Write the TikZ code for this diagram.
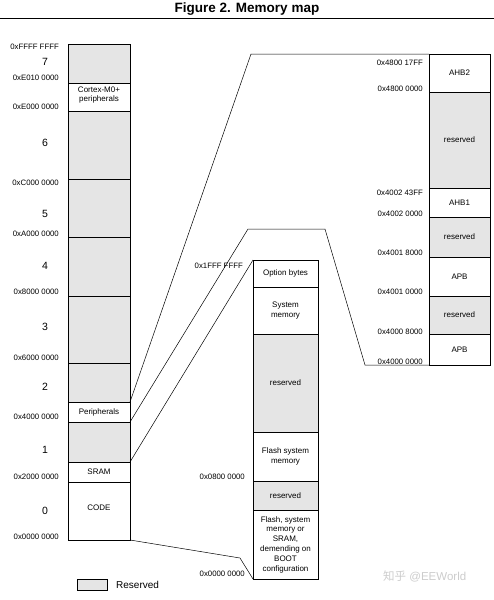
\documentclass[tikz,border=0pt]{standalone}
\usepackage{fontspec}
\setmainfont{Liberation Sans}
\newfontfamily\cjkfont{Noto Sans CJK SC}
\usepackage{xcolor}
\definecolor{resgray}{gray}{0.9}

\tikzset{
  blk/.style={draw, line width=0.7pt, anchor=north west, inner sep=0pt, outer sep=0pt,
    align=center, font=\fontsize{8}{9.8}\selectfont},
  lblk/.style={blk, minimum width=62pt},
  mblk/.style={blk, minimum width=65pt},
  rblk/.style={blk, minimum width=61pt},
  rsv/.style={fill=resgray},
  addr/.style={anchor=east, inner sep=0pt, font=\fontsize{7.8}{9}\selectfont},
  regnum/.style={inner sep=0pt, font=\fontsize{10.5}{12}\selectfont},
  link/.style={draw, line width=0.5pt}
}

\begin{document}
\begin{tikzpicture}[x=1pt, y=-1pt]
      \useasboundingbox (0,0) rectangle (494,600);

      % Title
      \node[font=\bfseries\fontsize{13.5}{15}\selectfont] (title) at (247,9) {Figure 2. Memory map};
      \draw[line width=0.9pt] (0,18) -- (494,18);

      % Full 4 GB map
      \node[lblk, rsv, minimum height=39pt] (r7) at (68,44) {};
      \node[lblk, minimum height=28pt] (cortex) at (68,83) {Cortex-M0+\\[-1pt]peripherals\\[-5pt]};
      \node[lblk, rsv, minimum height=68pt] (r6) at (68,111) {};
      \node[lblk, rsv, minimum height=58pt] (r5) at (68,179) {};
      \node[lblk, rsv, minimum height=59pt] (r4) at (68,237) {};
      \node[lblk, rsv, minimum height=67pt] (r3) at (68,296) {};
      \node[lblk, rsv, minimum height=39pt] (r2) at (68,363) {};
      \node[lblk, minimum height=20pt] (periph) at (68,402) {Peripherals};
      \node[lblk, rsv, minimum height=40pt] (r1) at (68,422) {};
      \node[lblk, minimum height=20pt] (sram) at (68,462) {SRAM};
      \node[lblk, minimum height=58pt] (code) at (68,482) {CODE\\[-4pt]};

      % Region numbers
      \foreach \n/\y in {7/62, 6/143, 5/214, 4/266, 3/327, 2/387, 1/450, 0/511} {
          \node[regnum] (num\n) at (45,\y) {\n};
        }

      % Left addresses
      \foreach \a/\y [count=\i] in {FFFF FFFF/47, E010 0000/78, E000 0000/107, C000 0000/183,
          A000 0000/234, 8000 0000/292, 6000 0000/358, 4000 0000/417, 2000 0000/477, 0000 0000/537} {
          \node[addr] (la\i) at (59,\y) {0x\a};
        }

      % Code area detail
      \node[mblk, minimum height=27pt] (opt) at (253,260) {Option bytes};
      \node[mblk, minimum height=47pt] (sysmem) at (253,287) {System\\memory};
      \node[mblk, rsv, minimum height=98pt] (mres) at (253,334) {reserved};
      \node[mblk, minimum height=49pt] (flashsys) at (253,432) {Flash system\\memory};
      \node[mblk, rsv, minimum height=29pt] (mresb) at (253,481) {reserved};
      \node[mblk, minimum height=69pt] (boot) at (253,510)
        {Flash, system\\memory or\\SRAM,\\demending on\\BOOT\\configuration};

      \node[addr] (ma1) at (243,266) {0x1FFF FFFF};
      \node[addr] (ma2) at (245,477) {0x0800 0000};
      \node[addr] (ma3) at (245,574) {0x0000 0000};

      % Peripheral area detail
      \node[rblk, minimum height=38pt] (ahb2) at (429,54) {AHB2};
      \node[rblk, rsv, minimum height=96pt] (rres1) at (429,92) {reserved};
      \node[rblk, minimum height=29pt] (ahb1) at (429,188) {AHB1};
      \node[rblk, rsv, minimum height=40pt] (rres2) at (429,217) {reserved};
      \node[rblk, minimum height=39pt] (apb2) at (429,257) {APB};
      \node[rblk, rsv, minimum height=38pt] (rres3) at (429,296) {reserved};
      \node[rblk, minimum height=31pt] (apb1) at (429,334) {APB};

      \foreach \a/\y [count=\i] in {4800 17FF/63, 4800 0000/89, 4002 43FF/193, 4002 0000/214,
          4001 8000/253, 4001 0000/292, 4000 8000/332, 4000 0000/362} {
          \node[addr] (ra\i) at (423,\y) {0x\a};
        }

      % Zoom lines
      \coordinate (k1) at (251,54);
      \coordinate (k2) at (248,229);
      \coordinate (k3) at (325,229);
      \coordinate (k4) at (365,365);
      \coordinate (k5) at (240,558);
      \draw[link] (periph.north east) -- (k1) -- (ahb2.north west);
      \draw[link] (periph.south east) -- (k2) -- (k3) -- (k4) -- (apb1.south west);
      \draw[link] (sram.north east) -- (opt.north west);
      \draw[link] (code.south east) -- (k5) -- (boot.south west);

      % Legend
      \node[draw, rsv, line width=0.6pt, anchor=north west, minimum width=30pt, minimum height=11pt, inner sep=0pt] (legbox) at (77,579) {};
      \node[anchor=west, inner sep=0pt, font=\fontsize{10}{12}\selectfont] (legtext) at (116,585) {Reserved};

      % Watermark
      \node[anchor=west, inner sep=0pt, text=gray!40, font=\fontsize{11.5}{13}\selectfont] (mark) at (383,576) {{\cjkfont 知乎} @EEWorld};
    \end{tikzpicture}
\end{document}
